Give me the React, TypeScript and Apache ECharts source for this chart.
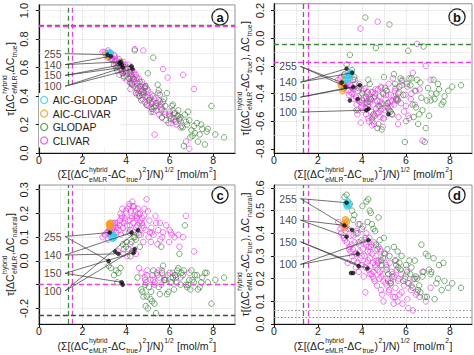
import React, { useEffect, useRef } from "react";
import * as echarts from "echarts";

const FONT = "'Liberation Sans', Arial, Helvetica, sans-serif";
const MAG = "#ee3cec";
const GRN = "#3f8a3a";
const DKG = "#2a5a2a";
const CYAN = "#2fd0ea";
const ORG = "#f59a1a";

// ---- CLIVAR (magenta) ----
const clivarX = [
  2.92, 3.05, 3.12, 3.18, 3.26, 3.31, 3.38, 3.44, 3.49, 3.55,
  3.58, 3.63, 3.67, 3.72, 3.76, 3.81, 3.85, 3.88, 3.93, 3.97,
  4.01, 4.04, 4.08, 4.12, 4.15, 4.19, 4.22, 4.26, 4.29, 4.33,
  4.36, 4.40, 4.43, 4.47, 4.50, 4.54, 4.57, 4.61, 4.64, 4.68,
  4.71, 4.75, 4.79, 4.83, 4.86, 4.90, 4.94, 4.98, 5.03, 5.07,
  5.12, 5.16, 5.21, 5.26, 5.31, 5.35, 5.41, 5.47, 5.52, 5.58,
  5.64, 5.70, 5.77, 5.84, 5.91, 5.98, 6.06, 6.14, 6.22, 6.31,
  6.40, 6.50, 6.62, 6.75, 6.90, 7.12, 3.70, 4.05, 4.45, 4.85,
  3.35, 3.90, 4.20, 4.60, 5.00, 5.30, 4.10, 4.35, 4.75, 5.55,
  3.02, 3.22, 3.41, 3.62, 3.79, 3.99, 4.17, 4.31, 4.49, 4.66,
  4.81, 4.97, 5.10, 5.24, 5.38, 5.50, 5.66, 5.80, 6.00, 6.25,
  3.53, 3.74, 3.95, 4.13, 4.38, 4.55, 4.73, 4.92, 5.18, 5.44,
  3.15, 3.48, 3.83, 4.27, 4.52, 4.88, 5.14, 5.62, 6.10, 6.45,
];
const clivarTauA = [
  0.71, 0.70, 0.69, 0.72, 0.68, 0.70, 0.67, 0.69, 0.66, 0.64,
  0.65, 0.62, 0.66, 0.60, 0.63, 0.58, 0.61, 0.64, 0.57, 0.60,
  0.58, 0.55, 0.60, 0.52, 0.56, 0.50, 0.54, 0.58, 0.48, 0.53,
  0.50, 0.73, 0.46, 0.51, 0.44, 0.49, 0.42, 0.47, 0.40, 0.45,
  0.43, 0.38, 0.72, 0.41, 0.36, 0.40, 0.34, 0.39, 0.33, 0.37,
  0.35, 0.31, 0.36, 0.29, 0.13, 0.33, 0.30, 0.42, 0.27, 0.32,
  0.25, 0.59, 0.29, 0.23, 0.53, 0.27, 0.21, 0.30, 0.24, 0.20,
  0.26, 0.18, 0.55, 0.08, 0.03, 0.45, 0.55, 0.51, 0.55, 0.46,
  0.66, 0.53, 0.45, 0.52, 0.44, 0.38, 0.62, 0.57, 0.48, 0.36,
  0.71, 0.68, 0.65, 0.61, 0.63, 0.55, 0.57, 0.51, 0.53, 0.47,
  0.42, 0.45, 0.38, 0.40, 0.33, 0.37, 0.31, 0.27, 0.29, 0.22,
  0.62, 0.59, 0.62, 0.53, 0.55, 0.46, 0.50, 0.43, 0.41, 0.35,
  0.67, 0.68, 0.56, 0.49, 0.41, 0.47, 0.32, 0.34, 0.25, 0.23,
];
const clivarTauB = [
  -0.30, -0.28, -0.33, -0.27, -0.35, -0.31, -0.38, -0.26, -0.34, -0.40,
  -0.36, -0.44, -0.30, -0.42, -0.48, -0.38, -0.45, -0.33, 0.07, -0.50,
  -0.40, -0.52, -0.43, -0.47, -0.36, -0.55, -0.44, -0.49, -0.58, -0.41,
  -0.46, -0.53, -0.39, -0.60, -0.48, -0.43, -0.56, -0.37, -0.51, -0.45,
  0.12, -0.49, -0.42, -0.57, -0.35, -0.47, -0.64, -0.40, -0.52, -0.44,
  -0.38, -0.50, -0.33, -0.46, -0.41, -0.55, -0.29, -0.48, -0.36, -0.43,
  -0.62, -0.39, -0.47, -0.30, -0.53, -0.41, -0.35, -0.58, -0.44, -0.25,
  -0.48, -0.04, -0.37, -0.74, -0.20, -0.30, -0.33, -0.38, -0.63, -0.52,
  -0.32, -0.46, -0.51, -0.40, -0.58, -0.49, -0.37, -0.43, -0.54, -0.45,
  -0.29, -0.31, -0.41, -0.37, -0.55, -0.47, -0.42, -0.60, -0.39, -0.54,
  -0.46, -0.58, -0.41, -0.52, -0.45, -0.38, -0.57, -0.34, -0.49, -0.40,
  -0.35, -0.43, -0.61, -0.50, -0.44, -0.62, -0.37, -0.51, -0.47, -0.42,
  -0.32, -0.39, -0.52, -0.46, -0.57, -0.36, -0.49, -0.44, -0.56, -0.38,
];
const clivarTauC = [
  0.10, 0.11, 0.12, 0.09, 0.13, 0.10, 0.14, 0.11, 0.15, 0.12,
  0.16, 0.04, 0.13, 0.17, 0.11, 0.19, 0.14, 0.03, 0.18, 0.12,
  0.20, 0.15, 0.22, 0.17, 0.24, 0.13, 0.21, 0.18, 0.25, 0.16,
  0.23, 0.19, 0.21, 0.14, 0.18, 0.22, 0.12, 0.16, 0.20, 0.11,
  -0.05, 0.15, 0.08, 0.19, -0.07, 0.13, 0.26, -0.04, 0.10, 0.17,
  -0.08, 0.14, -0.06, 0.11, -0.09, 0.19, -0.05, 0.13, -0.07, 0.09,
  -0.04, 0.12, -0.08, 0.15, -0.06, 0.08, 0.12, -0.05, 0.10, -0.09,
  0.11, -0.07, 0.10, 0.19, -0.05, 0.04, 0.15, 0.02, 0.03, 0.22,
  0.13, 0.16, 0.07, -0.03, 0.21, -0.10, 0.05, 0.04, 0.18, 0.16,
  0.11, 0.13, 0.16, 0.14, 0.18, 0.21, 0.15, 0.23, 0.19, 0.17,
  0.14, -0.06, 0.12, -0.08, 0.16, -0.04, 0.10, -0.07, 0.13, -0.06,
  0.14, 0.20, 0.17, 0.23, 0.12, 0.20, 0.16, -0.09, 0.12, 0.07,
  0.12, 0.16, 0.22, 0.19, 0.15, -0.08, 0.08, -0.10, 0.11, 0.06,
];
const clivarTauD = [
  0.45, 0.40, 0.43, 0.38, 0.41, 0.36, 0.42, 0.34, 0.39, 0.30,
  0.33, 0.28, 0.36, 0.25, 0.31, 0.40, 0.23, 0.35, 0.29, 0.37,
  0.26, 0.33, 0.21, 0.30, 0.14, 0.35, 0.27, 0.32, 0.24, 0.38,
  0.29, 0.34, 0.22, 0.31, 0.27, 0.36, 0.19, 0.25, 0.30, 0.17,
  0.24, 0.28, 0.20, 0.33, 0.15, 0.26, 0.22, 0.10, 0.29, 0.18,
  0.25, 0.20, 0.14, 0.27, 0.18, 0.23, 0.12, 0.21, 0.16, 0.24,
  0.19, 0.13, 0.22, 0.09, 0.17, 0.21, 0.11, 0.18, 0.15, 0.06,
  0.20, 0.14, 0.12, 0.23, 0.10, 0.16, 0.31, 0.43, 0.35, 0.32,
  0.27, 0.32, 0.40, 0.26, 0.31, 0.19, 0.37, 0.22, 0.34, 0.28,
  0.42, 0.37, 0.33, 0.39, 0.27, 0.30, 0.25, 0.34, 0.21, 0.28,
  0.23, 0.19, 0.26, 0.15, 0.22, 0.12, 0.20, 0.14, 0.24, 0.17,
  0.35, 0.41, 0.26, 0.36, 0.32, 0.20, 0.27, 0.13, 0.19, 0.09,
  0.39, 0.32, 0.44, 0.28, 0.23, 0.21, 0.17, 0.10, 0.07, 0.13,
];

// ---- GLODAP (green) ----
const glodapX = [
  3.20, 3.45, 3.60, 3.75, 3.90, 4.02, 4.15, 4.28, 4.40, 4.52,
  4.63, 4.75, 4.88, 5.00, 5.12, 5.25, 5.38, 5.50, 5.62, 5.75,
  5.88, 6.00, 6.10, 6.20, 6.30, 6.40, 6.50, 6.60, 6.70, 6.80,
  6.90, 7.00, 7.12, 7.25, 7.38, 7.50, 7.62, 7.75, 7.92, 8.50,
  3.55, 3.85, 4.20, 4.45, 4.70, 4.95, 5.20, 5.45, 5.70, 5.95,
  6.25, 6.45, 6.65, 6.85, 7.05, 7.30, 4.60, 5.30, 6.05, 6.55,
  3.30, 3.65, 4.00, 4.35, 4.80, 5.05, 5.55, 5.80, 6.35, 6.75,
  7.15, 7.45, 7.70, 8.10, 4.25, 4.90, 5.15, 5.65, 6.15, 6.95,
];
const glodapTauA = [
  0.68, 0.62, 0.58, 0.64, 0.54, 0.60, 0.52, 0.48, 0.72, 0.45,
  0.50, 0.41, 0.46, 0.56, 0.39, 0.67, 0.35, 0.44, 0.30, 0.38,
  0.42, 0.26, 0.33, 0.28, 0.22, 0.30, 0.25, 0.18, 0.27, 0.20,
  0.23, 0.16, 0.19, 0.21, 0.13, 0.17, 0.06, 0.17, 0.33, 0.11,
  0.60, 0.56, 0.49, 0.42, 0.37, 0.34, 0.31, 0.48, 0.36, 0.21,
  0.28, 0.24, 0.05, 0.29, 0.12, 0.08, 0.40, 0.32, 0.24, 0.19,
  0.66, 0.63, 0.57, 0.52, 0.43, 0.37, 0.41, 0.33, 0.26, 0.22,
  0.14, 0.20, 0.15, 0.13, 0.55, 0.47, 0.29, 0.25, 0.34, 0.11,
];
const glodapTauB = [
  -0.26, -0.12, -0.30, -0.52, -0.35, -0.40, 0.15, -0.30, -0.44, -0.55,
  -0.07, -0.62, -0.48, -0.28, -0.38, 0.10, -0.55, -0.33, -0.45, -0.29,
  -0.41, -0.60, -0.09, -0.34, -0.48, -0.38, -0.30, -0.55, -0.43, -0.06,
  -0.65, -0.36, -0.45, -0.30, -0.40, -0.37, -0.48, -0.42, -0.38, -0.34,
  -0.23, -0.36, -0.47, -0.58, -0.65, -0.40, -0.51, -0.26, -0.35, -0.75,
  -0.29, -0.50, -0.32, -0.75, -0.56, -0.44, -0.42, -0.53, -0.33, -0.62,
  -0.19, -0.28, -0.45, -0.33, -0.49, -0.36, -0.44, -0.31, -0.57, -0.52,
  -0.40, -0.33, -0.46, -0.35, -0.39, -0.66, -0.47, -0.40, -0.29, -0.45,
];
const glodapTauC = [
  -0.02, -0.06, -0.09, -0.03, 0.05, 0.08, 0.12, 0.04, 0.10, -0.07,
  0.06, -0.13, -0.10, -0.20, -0.16, -0.04, -0.22, -0.11, 0.06, -0.08,
  -0.14, -0.05, -0.09, -0.12, -0.07, -0.03, -0.10, -0.06, 0.15, -0.11,
  -0.08, -0.04, -0.09, -0.06, -0.11, -0.07, -0.05, -0.09, -0.18, -0.07,
  -0.04, 0.07, 0.02, 0.09, -0.12, -0.15, -0.17, -0.06, -0.02, -0.13,
  -0.06, 0.03, -0.04, -0.10, -0.08, -0.12, 0.11, -0.18, -0.09, -0.05,
  -0.03, -0.05, 0.06, 0.10, -0.15, -0.11, -0.14, -0.08, -0.04, -0.10,
  -0.06, -0.09, -0.05, -0.08, 0.08, -0.19, -0.13, -0.05, -0.07, -0.12,
];
const glodapTauD = [
  0.56, 0.53, 0.46, 0.40, 0.44, 0.52, 0.38, 0.55, 0.49, 0.42,
  0.35, 0.47, 0.28, 0.38, 0.24, 0.30, 0.21, 0.28, 0.32, 0.24,
  0.19, 0.26, 0.18, 0.22, 0.16, 0.28, 0.20, 0.17, 0.35, 0.23,
  0.31, 0.30, 0.22, 0.29, 0.18, 0.26, 0.15, 0.19, 0.16, 0.16,
  0.50, 0.36, 0.54, 0.44, 0.33, 0.29, 0.22, 0.34, 0.27, 0.20,
  0.25, 0.21, 0.14, 0.12, 0.24, 0.11, 0.41, 0.18, 0.23, 0.15,
  0.57, 0.48, 0.42, 0.50, 0.37, 0.31, 0.26, 0.30, 0.20, 0.21,
  0.23, 0.20, 0.27, 0.18, 0.45, 0.26, 0.33, 0.25, 0.28, 0.12,
];

// ---- AIC selections ----
const aicGlodapA = [[3.2, 0.7], [3.25, 0.705], [3.22, 0.695]];
const aicClivarA = [[3.1, 0.69], [3.15, 0.685], [3.12, 0.695]];
const aicGlodapB = [[3.35, -0.27], [3.45, -0.26], [3.4, -0.29], [3.5, -0.25], [3.3, -0.3]];
const aicClivarB = [[3.1, -0.33], [3.15, -0.36], [3.2, -0.3], [3.12, -0.38], [3.05, -0.34]];
const aicGlodapC = [[3.35, 0.105], [3.4, 0.11], [3.45, 0.1], [3.38, 0.095]];
const aicClivarC = [[3.22, 0.155], [3.28, 0.16], [3.3, 0.15], [3.25, 0.145]];
const aicGlodapD = [[3.3, 0.53], [3.35, 0.54], [3.4, 0.525], [3.32, 0.52]];
const aicClivarD = [[3.2, 0.44], [3.25, 0.46], [3.3, 0.45], [3.22, 0.425]];

// ---- highlighted (black) configurations ----
const selA = [[3.15, 0.69], [3.3, 0.68], [3.75, 0.64], [3.8, 0.62], [4.25, 0.61], [3.85, 0.6], [4.3, 0.59], [3.7, 0.63]];
const selB = [[3.08, -0.32], [3.25, -0.35], [3.3, -0.22], [3.55, -0.25], [3.6, -0.355], [3.9, -0.34], [4.2, -0.52], [4.3, -0.51], [3.45, -0.45], [3.8, -0.44], [5.2, -0.55]];
const selC = [[3.25, 0.12], [3.2, 0.0], [3.65, 0.03], [4.25, 0.12], [3.8, -0.09], [4.35, 0.035], [4.4, 0.05], [4.55, 0.13], [3.5, 0.04], [3.85, -0.1]];
const selD = [[3.3, 0.535], [3.55, 0.415], [3.2, 0.435], [3.3, 0.385], [3.85, 0.255], [4.25, 0.245], [3.8, 0.31], [4.3, 0.37], [3.5, 0.225], [3.6, 0.225]];

// ---- annotations ----
const annotLabels = ["255", "140", "150", "100"];
const annotX = 1.2;
const annotYA = [0.698, 0.621, 0.545, 0.469];
const annotYB = [-0.203, -0.318, -0.426, -0.534];
const annotYC = [0.103, 0.025, -0.052, -0.126];
const annotYD = [0.553, 0.458, 0.363, 0.263];
const annotTargetsA = [[[3.15, 0.69]], [[3.3, 0.68], [3.75, 0.64]], [[3.8, 0.62], [4.25, 0.61]], [[3.85, 0.6], [4.3, 0.59]]];
const annotTargetsB = [[[3.08, -0.32], [3.25, -0.35]], [[3.3, -0.22], [3.55, -0.25]], [[3.6, -0.355], [3.9, -0.34]], [[4.2, -0.52]]];
const annotTargetsC = [[[3.25, 0.12], [3.2, 0.0]], [[3.65, 0.03], [4.25, 0.12]], [[3.8, -0.09], [4.35, 0.035]], [[4.4, 0.05], [4.55, 0.13]]];
const annotTargetsD = [[[3.3, 0.535], [3.55, 0.415]], [[3.2, 0.435], [3.3, 0.385]], [[3.85, 0.255], [4.25, 0.245]], [[3.8, 0.31], [4.3, 0.37]]];

// ---- axes ticks ----
const xTicks = [0, 2, 4, 6, 8];
const xGridLines = [1, 2, 3, 4, 5, 6, 7, 8];
const yLabelsA = [0, 0.2, 0.4, 0.6, 0.8, 1.0];
const yLabelsB = [-0.8, -0.6, -0.4, -0.2, 0, 0.2];
const yLabelsC = [-0.2, 0, 0.1, 0.2, 0.3];
const yTicksC = [-0.2, -0.1, 0, 0.1, 0.2, 0.3];
const yLabelsD = [0, 0.1, 0.2, 0.3, 0.4, 0.5, 0.6];
const hGridA = [0.1, 0.2, 0.3, 0.4, 0.5, 0.6, 0.7, 0.8, 0.9, 1.0];
const hGridB = [-0.7, -0.6, -0.5, -0.4, -0.3, -0.2, -0.1, 0, 0.1, 0.2];
const hGridC = [-0.2, -0.1, 0, 0.1, 0.2, 0.3];
const hGridD = [0.1, 0.2, 0.3, 0.4, 0.5, 0.6];

// reference (threshold) lines
const refA = [
  { dir: "x", v: 1.33, c: GRN, from: 0.48 }, { dir: "x", v: 1.55, c: MAG, from: 0.48 },
  { dir: "y", v: 0.9, c: GRN }, { dir: "y", v: 0.885, c: MAG },
];
const refB = [
  { dir: "x", v: 1.33, c: GRN }, { dir: "x", v: 1.55, c: MAG },
  { dir: "y", v: -0.035, c: GRN }, { dir: "y", v: -0.165, c: MAG },
];
const refC = [
  { dir: "x", v: 1.33, c: GRN }, { dir: "x", v: 1.55, c: MAG },
  { dir: "y", v: -0.105, c: MAG }, { dir: "y", v: -0.232, c: DKG },
];
const refD = [
  { dir: "x", v: 1.33, c: GRN }, { dir: "x", v: 1.55, c: MAG },
  { dir: "y", v: 0.06, c: "#999999", dotted: true }, { dir: "y", v: 0.03, c: MAG, dotted: true },
];

const RICH = {
  m: { fontSize: 10.5, fontFamily: FONT, color: "#222", lineHeight: 17, align: "left" },
  mp: { fontSize: 10.5, fontFamily: FONT, color: "#222", lineHeight: 17, align: "left", padding: [0, 0.5, 0, 0] },
  hy: { fontSize: 6.8, fontFamily: FONT, color: "#222", verticalAlign: "top", align: "left", lineHeight: 7.5, width: 0 },
  sb: { fontSize: 6.8, fontFamily: FONT, color: "#222", verticalAlign: "bottom", align: "left", lineHeight: 7.5, padding: [0, 0.5, 0, 0] },
  sp: { fontSize: 6.8, fontFamily: FONT, color: "#222", verticalAlign: "top", align: "left", lineHeight: 7.5, padding: [0, 0.5, 0, 0] },
};

const xName = "{mp|(Σ[(ΔC}{hy|hybrid}{sb|eMLR}{mp|-ΔC}{sb|true}{mp|)}{sp|2}{mp|]/N)}{sp|1/2}{mp| [mol/m}{sp|2}{m|]}";
const yNameA = "{mp|τ[ΔC}{hy|hybrid}{sb|eMLR}{mp|,ΔC}{sb|true}{m|]}";
const yNameB = "{mp|τ[(ΔC}{hy|hybrid}{sb|eMLR}{mp|-ΔC}{sb|true}{mp|), ΔC}{sb|true}{m|]}";
const yNameC = "{mp|τ[ΔC}{hy|hybrid}{sb|eMLR}{mp|,ΔC}{sb|natural}{m|]}";
const yNameD = "{mp|τ[(ΔC}{hy|hybrid}{sb|eMLR}{mp|-ΔC}{sb|true}{mp|), ΔC}{sb|natural}{m|]}";

const panels = [
  { letter: "a", grid: { left: 37, top: 3, width: 198, height: 150 }, ymin: 0, ymax: 1.04, yLabels: yLabelsA, yTicks: yLabelsA, hGrid: hGridA, yName: yNameA, clivar: clivarTauA, glodap: glodapTauA, aicG: aicGlodapA, aicC: aicClivarA, sel: selA, annY: annotYA, annT: annotTargetsA, ref: refA, circle: [220, 17] },
  { letter: "b", grid: { left: 274, top: 3, width: 198, height: 150 }, ymin: -0.83, ymax: 0.25, yLabels: yLabelsB, yTicks: yLabelsB, hGrid: hGridB, yName: yNameB, clivar: clivarTauB, glodap: glodapTauB, aicG: aicGlodapB, aicC: aicClivarB, sel: selB, annY: annotYB, annT: annotTargetsB, ref: refB, circle: [457, 17] },
  { letter: "c", grid: { left: 37, top: 185, width: 198, height: 142 }, ymin: -0.266, ymax: 0.32, yLabels: yLabelsC, yTicks: yTicksC, hGrid: hGridC, yName: yNameC, clivar: clivarTauC, glodap: glodapTauC, aicG: aicGlodapC, aicC: aicClivarC, sel: selC, annY: annotYC, annT: annotTargetsC, ref: refC, circle: [220, 195] },
  { letter: "d", grid: { left: 274, top: 185, width: 198, height: 142 }, ymin: 0, ymax: 0.613, yLabels: yLabelsD, yTicks: yLabelsD, hGrid: hGridD, yName: yNameD, clivar: clivarTauD, glodap: glodapTauD, aicG: aicGlodapD, aicC: aicClivarD, sel: selD, annY: annotYD, annT: annotTargetsD, ref: refD, circle: [457, 195] },
];

const hollow = (c: string, w = 0.9) => ({ color: "rgba(0,0,0,0)", borderColor: c, borderWidth: w });

function buildOption() {
  const series: any[] = [];
  panels.forEach((p, i) => {
    const ax = { xAxisIndex: i, yAxisIndex: i };
    series.push({
      type: "scatter", ...ax, data: [], silent: true, z: 1,
      markLine: {
        silent: true, symbol: ["none", "none"], label: { show: false }, animation: false,
        lineStyle: { color: "#cfcfcf", type: "dotted", width: 0.8 },
        data: [...xGridLines.map((v) => ({ xAxis: v })), ...p.hGrid.map((v) => ({ yAxis: v }))],
      },
    });
    series.push({
      type: "scatter", ...ax, data: [], silent: true, z: 2,
      markLine: {
        silent: true, symbol: ["none", "none"], label: { show: false }, animation: false,
        data: p.ref.map((r: any) => {
          const ls = { color: r.c, type: r.dotted ? [1.5, 2] : [5, 3], width: r.dotted ? 1 : 1.3 };
          if (r.dir === "x") {
            if (r.from != null) return [{ coord: [r.v, r.from], lineStyle: ls }, { coord: [r.v, p.ymax] }];
            return { xAxis: r.v, lineStyle: ls };
          }
          return { yAxis: r.v, lineStyle: ls };
        }),
      },
    });
    series.push({
      type: "scatter", name: "CLIVAR", ...ax, z: 3, symbol: "circle", symbolSize: 5.5,
      itemStyle: hollow(MAG), data: clivarX.map((x, k) => [x, p.clivar[k]]),
    });
    series.push({
      type: "scatter", name: "GLODAP", ...ax, z: 3, symbol: "circle", symbolSize: 5.5,
      itemStyle: hollow(GRN), data: glodapX.map((x, k) => [x, p.glodap[k]]),
    });
    series.push({
      type: "scatter", name: "AIC-CLIVAR", ...ax, z: 4, symbol: "circle", symbolSize: 6,
      itemStyle: { color: "rgba(245,154,26,0.55)", borderColor: ORG, borderWidth: 1.3 }, data: p.aicC,
    });
    series.push({
      type: "scatter", name: "AIC-GLODAP", ...ax, z: 4, symbol: "circle", symbolSize: 6,
      itemStyle: { color: "rgba(47,208,234,0.55)", borderColor: CYAN, borderWidth: 1.3 }, data: p.aicG,
    });
    const lines: any[] = [];
    p.annT.forEach((targets: number[][], k: number) => {
      targets.forEach((t) => lines.push([{ coord: [annotX, p.annY[k]] }, { coord: t }]));
    });
    series.push({
      type: "scatter", name: "sel", ...ax, z: 5, symbol: "circle", symbolSize: 4,
      itemStyle: { color: "#151515", borderColor: "#000", borderWidth: 0.5 }, data: p.sel,
      markLine: {
        silent: true, symbol: ["none", "none"], label: { show: false }, animation: false,
        lineStyle: { color: "#333", type: "solid", width: 0.7 }, data: lines,
      },
    });
    series.push({
      type: "scatter", name: "lbl", ...ax, z: 6, symbol: "circle", symbolSize: 1,
      itemStyle: { color: "rgba(0,0,0,0)" },
      data: annotLabels.map((t, k) => [annotX, p.annY[k], t]),
      label: {
        show: true, position: "left", distance: 2, formatter: (q: any) => q.value[2],
        fontSize: 10.5, lineHeight: 10, fontFamily: FONT, color: "#111", backgroundColor: "#fff", padding: [0, 1, 0, 1],
      },
    });
  });

  const legendItem = (name: string, c: string) => ({ name, itemStyle: { color: "rgba(0,0,0,0)", borderColor: c, borderWidth: 1.3 } });

  return {
    animation: false,
    backgroundColor: "#fff",
    grid: panels.map((p) => ({ ...p.grid, show: true, borderColor: "#777", borderWidth: 0.8, backgroundColor: "transparent" })),
    xAxis: panels.map((p, i) => ({
      type: "value", gridIndex: i, min: 0, max: 9,
      axisLine: { show: true, onZero: false, lineStyle: { color: "#111", width: 1.2 } },
      axisTick: { show: true, length: 3, customValues: xTicks, lineStyle: { color: "#111" } },
      axisLabel: { customValues: xTicks, margin: 1, fontSize: 10.5, lineHeight: 11, fontFamily: FONT, color: "#222", formatter: (v: number) => String(v) },
      splitLine: { show: false },
      name: xName, nameLocation: "middle", nameGap: 12,
      nameTextStyle: { fontFamily: FONT, fontSize: 10.5, color: "#222", rich: RICH },
    })),
    yAxis: panels.map((p, i) => ({
      type: "value", gridIndex: i, min: p.ymin, max: p.ymax,
      axisLine: { show: true, onZero: false, lineStyle: { color: "#111", width: 1.2 } },
      axisTick: { show: true, length: 3, customValues: p.yTicks, lineStyle: { color: "#111" } },
      axisLabel: { customValues: p.yLabels, rotate: 90, margin: 9, fontSize: 11, lineHeight: 11, fontFamily: FONT, color: "#222", formatter: (v: number) => v.toFixed(1) },
      splitLine: { show: false },
      name: p.yName, nameLocation: "middle", nameGap: 20, nameRotate: 90,
      nameTextStyle: { fontFamily: FONT, fontSize: 10.5, color: "#222", rich: RICH },
    })),
    legend: {
      left: 39, top: 93, orient: "vertical", icon: "circle", itemWidth: 7, itemHeight: 7, itemGap: 1.5,
      backgroundColor: "#fff", padding: [1, 3, 1, 1], selectedMode: false, z: 10,
      textStyle: { fontSize: 10.5, fontFamily: FONT, color: "#222", lineHeight: 12 },
      data: [legendItem("AIC-GLODAP", CYAN), legendItem("AIC-CLIVAR", ORG), legendItem("GLODAP", GRN), legendItem("CLIVAR", MAG)],
    },
    graphic: panels.map((p) => ({
      type: "group", z: 20,
      children: [
        { type: "circle", shape: { cx: p.circle[0], cy: p.circle[1], r: 8 }, style: { fill: "#fff", stroke: "#222", lineWidth: 1.3 } },
        { type: "text", x: p.circle[0], y: p.circle[1], style: { text: p.letter, align: "center", verticalAlign: "middle", fontSize: 13, fontWeight: "bold", fontFamily: FONT, fill: "#111" } },
      ],
    })),
    series,
  };
}

export default function App() {
  const ref = useRef<HTMLDivElement>(null);
  useEffect(() => {
    if (!ref.current) return;
    const chart = echarts.init(ref.current, null, { renderer: "svg" });
    chart.setOption(buildOption() as any);
    return () => chart.dispose();
  }, []);
  return <div ref={ref} style={{ position: "fixed", left: 0, top: 0, width: 474, height: 355, background: "#fff" }} />;
}
